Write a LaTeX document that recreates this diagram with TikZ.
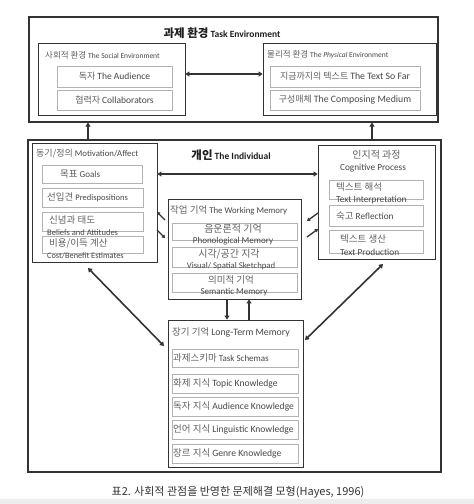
\documentclass[tikz,border=0pt]{standalone}
\usepackage{fontspec}
\setmainfont{Carlito}
\newfontfamily\kr{Noto Sans CJK KR}
\usetikzlibrary{arrows.meta,fit,calc}
\newcommand{\K}[2][9.5]{{\kr\fontsize{#1}{#1}\selectfont\color{black!62}#2}}
\newcommand{\E}[2][9]{{\fontsize{#1}{#1}\selectfont #2}}
\tikzset{
  bigbox/.style={draw=black!80, line width=1.1pt, inner sep=0pt},
  grpbox/.style={draw=black!80, line width=0.9pt, inner sep=0pt},
  subbox/.style={draw=black!30, line width=0.6pt, inner sep=0pt},
  txt/.style={inner sep=0pt, text=black!72, font=\fontsize{9}{10}\selectfont},
  ttl/.style={inner sep=0pt, text=black!88, font=\bfseries\fontsize{9.5}{10}\selectfont},
  arr/.style={draw=black!80, line width=1.6pt, -{Triangle[length=4pt,width=5pt]}},
  darr/.style={draw=black!80, line width=1.6pt, {Triangle[length=4pt,width=5pt]}-{Triangle[length=4pt,width=5pt]}},
  sarr/.style={draw=black!80, line width=1.3pt, -{Triangle[length=3pt,width=4pt]}},
}
\begin{document}
\begin{tikzpicture}[x=1pt,y=-1pt]
\fill[white] (0,0) rectangle (474,504);
\useasboundingbox (0,0) rectangle (474,504);
\fill[black!7] (0,499) rectangle (474,504);

% ---------- Task environment ----------
\node[bigbox, fit={(29,17) (438,122)}] (task) {};
\node[ttl] (taskT) at (222,33) {{\kr\fontsize{11.5}{12}\selectfont\bfseries 과제 환경} Task Environment};

\node[grpbox, fit={(38,43) (185,115)}] (soc) {};
\node[txt, anchor=west] (socT) at (45,55) {\K[8.5]{사회적 환경} \E[7.5]{The Social Environment}};
\node[subbox, fit={(57,66) (172,87)}] (aud) {};
\node[txt] (audT) at (aud.center) {\K[9]{독자} \E[9.5]{The Audience}};
\node[subbox, fit={(57,90) (172,110)}] (col) {};
\node[txt] (colT) at (col.center) {\K[9]{협력자} \E[9.5]{Collaborators}};

\node[grpbox, fit={(263,43) (436,115)}] (phy) {};
\node[txt, anchor=west] (phyT) at (267,55) {\K[8.5]{물리적 환경} \E[7.5]{The \textit{Physical} Environment}};
\node[subbox, fit={(270,66) (420,87)}] (tsf) {};
\node[txt] (tsfT) at (tsf.center) {\K[9]{지금까지의 텍스트} \E[9.8]{The Text So Far}};
\node[subbox, fit={(270,90) (420,110)}] (med) {};
\node[txt] (medT) at (med.center) {\K[9]{구성매체} \E[9.8]{The Composing Medium}};

\draw[darr] (soc.east |- 0,74) -- (phy.west |- 0,74);

% ---------- Individual ----------
\node[bigbox, fit={(28,140) (441,472)}] (ind) {};
\node[ttl] (indT) at (231,155) {{\kr\fontsize{11.5}{12}\selectfont\bfseries 개인} The Individual};

\coordinate (xl) at (88,0);
\coordinate (xr) at (372,0);
\draw[arr] (xl |- ind.north) -- (xl |- task.south);
\draw[arr] (xr |- ind.north) -- (xr |- task.south);

% Motivation
\node[grpbox, fit={(32,143) (157,262)}] (mot) {};
\node[txt, anchor=west] (motT) at (36,154) {\K[9]{동기/정의} \E[8.8]{Motivation/Affect}};
\node[subbox, fit={(42,165) (142,183)}] (goal) {};
\node[txt, anchor=west] (goalT) at (60,174) {\K{목표} Goals};
\node[subbox, fit={(42,188) (143,207)}] (pre) {};
\node[txt, anchor=west] (preT) at (47,197.5) {\K{선입견} \E[8.5]{Predispositions}};
\node[subbox, fit={(42,212) (143,231)}] (bel) {};
\node[txt, anchor=west] (belK) at (49,220) {\K{신념과 태도}};
\node[txt, anchor=west] (belE) at (47,233) {\E[8.5]{Beliefs and Attitudes}};
\node[subbox, fit={(42,236) (143,253)}] (cost) {};
\node[txt, anchor=west] (costK) at (49,243.5) {\K{비용/이득 계산}};
\node[txt, anchor=west] (costE) at (47,256) {\E[8.3]{Cost/Benefit Estimates}};

% Cognitive process
\node[grpbox, fit={(318,145) (435,259)}] (cog) {};
\node[txt] (cogK) at (376.5,155) {\K[10]{인지적 과정}};
\node[txt] (cogE) at (373,168) {\E[9.3]{Cognitive Process}};
\node[subbox, fit={(329,180) (423,199)}] (tint) {};
\node[txt, anchor=west] (tintK) at (336,187) {\K{텍스트 해석}};
\node[txt, anchor=west] (tintE) at (336,200) {\E[9.3]{Text Interpretation}};
\node[subbox, fit={(329,205) (423,226)}] (refl) {};
\node[txt, anchor=west] (reflT) at (336,215.5) {\K{숙고} \E[9.3]{Reflection}};
\node[subbox, fit={(329,230) (423,253)}] (tprod) {};
\node[txt, anchor=west] (tprodK) at (340,239) {\K{텍스트 생산}};
\node[txt, anchor=west] (tprodE) at (340,252) {\E[9.3]{Text Production}};

\draw[darr] (mot.east |- 0,174) -- (cog.west |- 0,174);

% Working memory
\node[grpbox, fit={(168,199) (301,299)}] (wm) {};
\node[txt, anchor=west] (wmT) at (170,210) {\K{작업 기억} \E[8.8]{The Working Memory}};
\node[subbox, fit={(172,223) (297,240)}] (pho) {};
\node[txt] (phoK) at (233,229) {\K[10]{음운론적 기억}};
\node[txt] (phoE) at (233,241) {\E[9]{Phonological Memory}};
\node[subbox, fit={(172,247) (297,267)}] (vis) {};
\node[txt] (visK) at (229,254) {\K[10]{시각/공간 지각}};
\node[txt] (visE) at (231,266) {\E[8.7]{Visual/ Spatial Sketchpad}};
\node[subbox, fit={(172,273) (297,292)}] (sem) {};
\node[txt] (semK) at (231,280) {\K[9.5]{의미적 기억}};
\node[txt] (semE) at (234,292) {\E[9]{Semantic Memory}};

% small arrows WM <-> motivation / cognitive
\coordinate (m1) at (157,212); \coordinate (w1) at (165,220);
\coordinate (m2) at (157,230); \coordinate (w2) at (165,238);
\draw[sarr] (w1) -- (m1);
\draw[sarr] (m2) -- (w2);
\coordinate (c1) at (318,213); \coordinate (w3) at (307,221);
\coordinate (w4) at (307,237); \coordinate (c2) at (318,229);
\draw[sarr] (c1) -- (w3);
\draw[sarr] (w4) -- (c2);

% Long-term memory
\node[grpbox, fit={(168,320) (303,467)}] (ltm) {};
\node[txt, anchor=west] (ltmT) at (172,332) {\K{장기 기억} \E[9.8]{Long-Term Memory}};
\node[subbox, fit={(172,349) (298,367)}] (sch) {};
\node[txt, anchor=west] (schT) at (173,358) {\K{과제스키마} \E[9]{Task Schemas}};
\node[subbox, fit={(172,374) (298,393)}] (top) {};
\node[txt, anchor=west] (topT) at (173,383.5) {\K{화제 지식} \E[9.6]{Topic Knowledge}};
\node[subbox, fit={(172,397) (298,416)}] (audk) {};
\node[txt, anchor=west] (audkT) at (173,406.5) {\K{독자 지식} \E[9.6]{Audience Knowledge}};
\node[subbox, fit={(172,420) (298,439)}] (lin) {};
\node[txt, anchor=west] (linT) at (173,429.5) {\K{언어 지식} \E[9.6]{Linguistic Knowledge}};
\node[subbox, fit={(172,444) (298,463)}] (gen) {};
\node[txt, anchor=west] (genT) at (173,453.5) {\K{장르 지식} \E[9.6]{Genre Knowledge}};

% WM <-> LTM
\coordinate (xa) at (227,0);
\coordinate (xb) at (249,0);
\draw[arr] (xa |- wm.south) -- (xa |- ltm.north);
\draw[arr] (xb |- ltm.north) -- (xb |- wm.south);

% diagonals
\coordinate (dl1) at (88,268); \coordinate (dl2) at (164,346);
\draw[darr] (dl1) -- (dl2);
\coordinate (dr1) at (383,264); \coordinate (dr2) at (305,340);
\draw[darr] (dr1) -- (dr2);

% caption
\node[inner sep=0pt, text=black!80, font=\kr\fontsize{11}{12}\selectfont] (cap) at (238,492) {표2. 사회적 관점을 반영한 문제해결 모형(Hayes, 1996)};
\end{tikzpicture}
\end{document}
